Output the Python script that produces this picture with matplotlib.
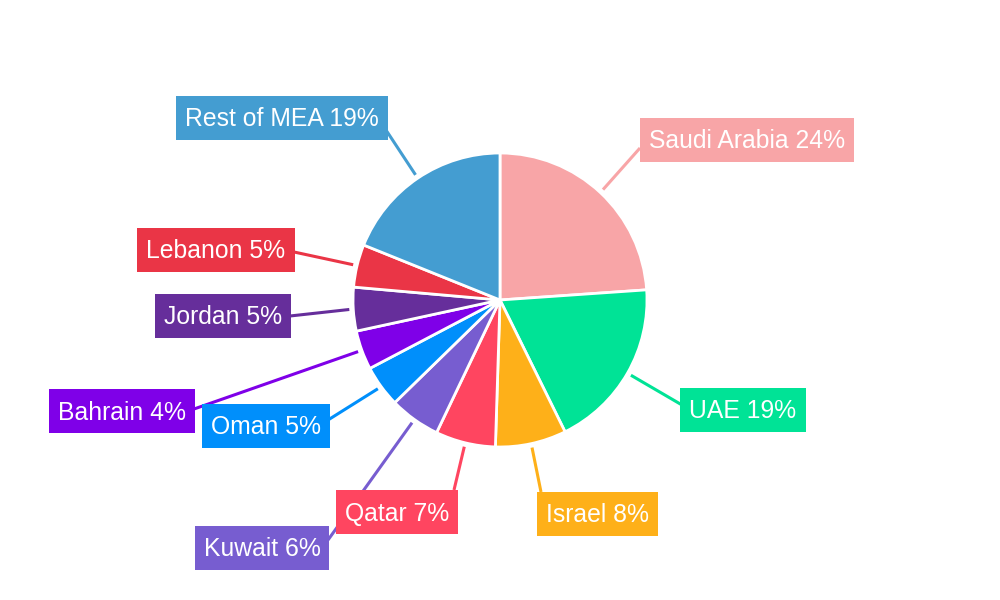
import numpy as np
import matplotlib.pyplot as plt
from matplotlib.patches import Rectangle

plt.rcParams['font.family'] = ['Liberation Sans', 'DejaVu Sans']

countries = ['Saudi Arabia', 'UAE', 'Israel', 'Qatar', 'Kuwait', 'Oman',
             'Bahrain', 'Jordan', 'Lebanon', 'Rest of MEA']
shares = [23.9, 18.8, 7.8, 6.6, 5.6, 4.6, 4.3, 4.8, 4.7, 18.9]
colors = ['#F8A5A7', '#00E396', '#FEB019', '#FF4560', '#775DD0', '#008FFB',
          '#7F00E8', '#662E9B', '#EA3546', '#449DD1']

# label layout in pixels (y down): box centre, leader line end
box_xy = [(747, 140), (743, 410), (597, 514), (397, 512), (262, 548),
          (266, 426), (122, 411), (223, 316), (216, 250), (282, 118)]
line_end = [(640, 148), (682, 405), (541, 492), (454, 490), (328, 540),
            (328, 420), (194, 409), (290, 316), (294, 252), (384, 127)]

W, H = 1000, 600
cx, cy, rad = 500, 300, 147

fig = plt.figure(figsize=(10, 6), dpi=100)
ax = fig.add_axes([0, 0, 1, 1])

ax.pie(shares, colors=colors, startangle=90, counterclock=False,
       center=(cx, H - cy), radius=rad,
       wedgeprops=dict(edgecolor='white', linewidth=2))

ax.set_xlim(0, W)
ax.set_ylim(0, H)
ax.set_aspect('equal')
ax.axis('off')

total = sum(shares)
start = 90.0
texts = []
for i, v in enumerate(shares):
    span = 360.0 * v / total
    mid = np.deg2rad(start - span / 2)
    start -= span
    x0 = cx + 151 * np.cos(mid)
    y0 = (H - cy) + 151 * np.sin(mid)
    ex, ey = line_end[i]
    ax.plot([x0, ex], [y0, H - ey], color=colors[i], lw=2.2,
            solid_capstyle='butt', zorder=1)
    bx, by = box_xy[i]
    t = ax.text(bx, H - by - 8.5, f'{countries[i]} {v / total * 100:.0f}%',
                ha='center', va='baseline', color='white', fontsize=17.8,
                zorder=4)
    texts.append(t)

# label boxes sized around the text
fig.canvas.draw()
r = fig.canvas.get_renderer()
inv = ax.transData.inverted()
for i, t in enumerate(texts):
    bb = t.get_window_extent(renderer=r)
    (x1, y1), (x2, y2) = inv.transform([(bb.x0, bb.y0), (bb.x1, bb.y1)])
    bx, by = box_xy[i]
    w = (x2 - x1) + 18
    ax.add_patch(Rectangle((bx - w / 2, H - by - 22), w, 44,
                           fc=colors[i], ec='none', zorder=3))

fig.savefig('out.png', dpi=100, facecolor='white')
